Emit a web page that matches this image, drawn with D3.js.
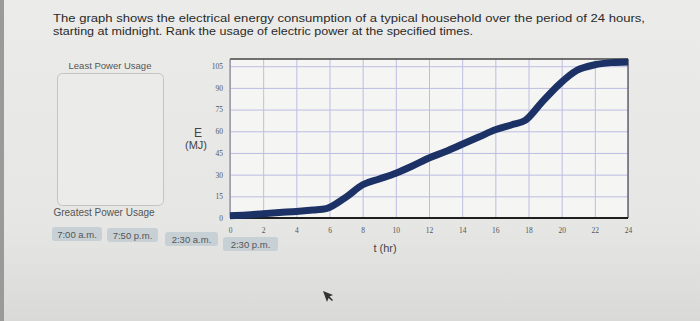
<!DOCTYPE html>
<html>
<head>
<meta charset="utf-8">
<script src="https://cdn.jsdelivr.net/npm/d3@7"></script>
<style>
  body { margin: 0; background: #e8e8e6; }
  svg { display: block; }
</style>
</head>
<body>
<script>
// energy curve
var hours  = [0, 1, 2, 3, 4, 5, 5.8, 7, 8, 9, 10, 11, 12, 13, 14, 15, 16, 17, 17.8, 18.8, 19.9, 20.9, 22, 23, 24];
var energy = [1.5, 2, 3, 3.8, 4.5, 5.5, 6.5, 14.5, 23, 27, 31, 36, 41.5, 46, 51, 56, 61, 64.5, 67.5, 80, 93, 102, 106, 107.5, 108];

var xTicks = [0, 2, 4, 6, 8, 10, 12, 14, 16, 18, 20, 22, 24];
var yTicks = [0, 15, 30, 45, 60, 75, 90, 105];
var times  = ["7:00 a.m.", "7:50 p.m.", "2:30 a.m.", "2:30 p.m."];

var question = ["The graph shows the electrical energy consumption of a typical household over the period of 24 hours,",
                "starting at midnight.  Rank the usage of electric power at the specified times."];

function makePage() {
  const W = 700, H = 321;

  const svg = d3.select("body")
                .append("svg")
                .attr("width", W)
                .attr("height", H);

  var grad = svg.append("defs")
                .append("linearGradient")
                .attr("id", "bg")
                .attr("x1", 0).attr("y1", 0)
                .attr("x2", 0).attr("y2", 1);
  grad.append("stop").attr("offset", "0%").attr("stop-color", "#ebebe9");
  grad.append("stop").attr("offset", "70%").attr("stop-color", "#e6e6e4");
  grad.append("stop").attr("offset", "100%").attr("stop-color", "#d9d9d7");

  svg.append("rect")
      .attr("width", W)
      .attr("height", H)
      .attr("fill", "url(#bg)");

  // screen edge on the left
  svg.append("rect")
      .attr("x", 0).attr("y", 0)
      .attr("width", 4).attr("height", H)
      .attr("fill", "#9a9a98");

  // question text
  svg.selectAll(".question")
      .data(question)
      .enter().append("text")
        .attr("class", "question")
        .attr("x", 53)
        .attr("y", function(d, i) { return 22 + i * 12.5; })
        .attr("textLength", function(d, i) { return i === 0 ? 592 : 420; })
        .attr("lengthAdjust", "spacingAndGlyphs")
        .style("font-family", "Liberation Sans, Arial, sans-serif")
        .style("font-size", "11.5px")
        .style("fill", "#2a2a2a")
        .text(function(d) { return d; });

  makeRanking(svg);
  makeGraph(svg);
}

function makeRanking(svg) {
  svg.append("text")
      .attr("x", 110)
      .attr("y", 69)
      .attr("text-anchor", "middle")
      .style("font-family", "Liberation Sans, Arial, sans-serif")
      .style("font-size", "9.5px")
      .style("fill", "#555")
      .text("Least Power Usage");

  svg.append("rect")
      .attr("x", 57.5)
      .attr("y", 73.5)
      .attr("width", 106)
      .attr("height", 132)
      .attr("rx", 5)
      .attr("fill", "#ebebe9")
      .attr("stroke", "#c4c4c2");

  svg.append("text")
      .attr("x", 104)
      .attr("y", 216)
      .attr("text-anchor", "middle")
      .style("font-family", "Liberation Sans, Arial, sans-serif")
      .style("font-size", "10px")
      .style("fill", "#555")
      .text("Greatest Power Usage");

  // answer buttons, following the tilt of the photo
  var left = [52, 107, 165, 223];
  var top = [227, 228, 232, 237];
  var wide = [50, 51, 53, 55];

  var btn = svg.selectAll(".btn")
               .data(times)
               .enter().append("g")
                 .attr("class", "btn")
                 .attr("transform", function(d, i) { return "translate(" + left[i] + "," + top[i] + ")"; });

  btn.append("rect")
      .attr("width", function(d, i) { return wide[i]; })
      .attr("height", 14)
      .attr("rx", 3)
      .attr("fill", "#c6d0d5");

  btn.append("text")
      .attr("x", function(d, i) { return wide[i] / 2; })
      .attr("y", 10.5)
      .attr("text-anchor", "middle")
      .style("font-family", "Liberation Sans, Arial, sans-serif")
      .style("font-size", "9.5px")
      .style("fill", "#555")
      .text(function(d) { return d; });
}

function makeGraph(svg) {
  const left = 230, right = 628, top = 59, bottom = 218;
  const width = right - left;
  const height = bottom - top;

  let x = d3.scaleLinear()
            .domain([0, 24])
            .range([0, width]);
  let y = d3.scaleLinear()
            .domain([0, 110])
            .range([height, 0]);

  const g = svg.append("g")
               .attr("transform", "translate(" + left + "," + top + ")");

  g.append("rect")
      .attr("width", width)
      .attr("height", height)
      .attr("fill", "#f5f5f3");

  // grid
  g.append("g")
      .attr("class", "grid")
      .call(d3.axisBottom(x).tickValues(xTicks).tickSize(height).tickFormat(""))
      .call(function(s) { s.select(".domain").remove(); });

  g.append("g")
      .attr("class", "grid")
      .call(d3.axisLeft(y).tickValues(yTicks).tickSize(-width).tickFormat(""))
      .call(function(s) { s.select(".domain").remove(); });

  g.selectAll(".grid line")
      .attr("stroke", "#bdbde3")
      .attr("stroke-width", 1);

  // frame
  g.append("line").attr("x1", 0).attr("x2", width).attr("y1", 0).attr("y2", 0)
      .attr("stroke", "#444").attr("stroke-width", 1.5);
  g.append("line").attr("x1", 0).attr("x2", 0).attr("y1", 0).attr("y2", height)
      .attr("stroke", "#8a8a8a").attr("stroke-width", 1.2);
  g.append("line").attr("x1", width).attr("x2", width).attr("y1", 0).attr("y2", height)
      .attr("stroke", "#666").attr("stroke-width", 1.5);
  g.append("line").attr("x1", 0).attr("x2", width).attr("y1", height).attr("y2", height)
      .attr("stroke", "#1e1e1e").attr("stroke-width", 2);

  // tick labels
  g.append("g")
      .attr("class", "axis")
      .attr("transform", "translate(0," + height + ")")
      .call(d3.axisBottom(x).tickValues(xTicks).tickSize(0).tickPadding(10))
      .call(function(s) { s.select(".domain").remove(); });

  g.append("g")
      .attr("class", "axis")
      .call(d3.axisLeft(y).tickValues(yTicks).tickSize(0).tickPadding(7))
      .call(function(s) { s.select(".domain").remove(); });

  g.selectAll(".axis text")
      .style("font-family", "Liberation Serif, Times New Roman, serif")
      .style("font-size", "7.5px")
      .style("fill", "#555");

  // axis titles
  svg.append("text")
      .attr("x", 198)
      .attr("y", 137)
      .attr("text-anchor", "middle")
      .style("font-family", "Liberation Sans, Arial, sans-serif")
      .style("font-size", "12px")
      .style("fill", "#444")
      .text("E");

  svg.append("text")
      .attr("x", 196)
      .attr("y", 149)
      .attr("text-anchor", "middle")
      .style("font-family", "Liberation Sans, Arial, sans-serif")
      .style("font-size", "11px")
      .style("fill", "#444")
      .text("(MJ)");

  svg.append("text")
      .attr("x", 385)
      .attr("y", 252)
      .attr("text-anchor", "middle")
      .style("font-family", "Liberation Sans, Arial, sans-serif")
      .style("font-size", "11px")
      .style("fill", "#444")
      .text("t (hr)");

  // energy curve
  var points = hours.map(function(h, i) { return {t: h, e: energy[i]}; });

  var line = d3.line()
               .x(function(d) { return x(d.t); })
               .y(function(d) { return y(d.e); })
               .curve(d3.curveMonotoneX);

  g.append("path")
      .datum(points)
      .attr("d", line)
      .attr("fill", "none")
      .attr("stroke", "#1c3166")
      .attr("stroke-width", 7)
      .attr("stroke-linecap", "butt")
      .attr("stroke-linejoin", "round");

  // mouse pointer in the photo
  svg.append("path")
      .attr("d", "M323,291 L327,302 L328.5,298 L332,301 L333,300 L329.5,296.5 L333,295 Z")
      .attr("fill", "#333");
}

window.onload = function() {
  makePage()
};
</script>
</body>
</html>
